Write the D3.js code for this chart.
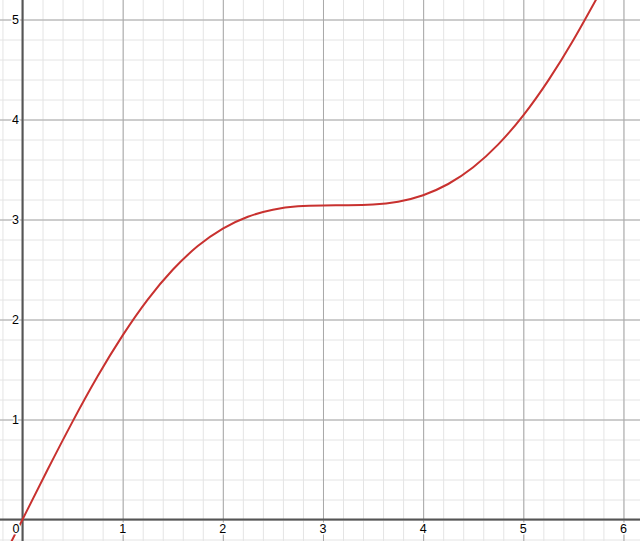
<!DOCTYPE html>
<html><head><meta charset="utf-8">
<script src="https://cdn.jsdelivr.net/npm/d3@7"></script>
<style>
html,body{margin:0;padding:0;background:#fff;}
svg{display:block;}
text{font-family:"Liberation Sans",Arial,sans-serif;}
</style></head>
<body>
<script>
// Data
const xs = [-0.25,0,0.25,0.5,0.75,1,1.25,1.5,1.75,2,2.25,2.5,2.75,3,3.25,3.5,3.75,4,4.25,4.5,4.75,5,5.25,5.5,5.75];
const ys = [-0.497,0,0.497,0.979,1.432,1.841,2.199,2.497,2.734,2.909,3.028,3.098,3.132,3.141,3.142,3.149,3.178,3.243,3.355,3.522,3.751,4.041,4.391,4.795,5.242];
const xTickLabels = [1,2,3,4,5,6];
const yTickLabels = [1,2,3,4,5];

const W = 640, H = 541;
const svg = d3.select("body").append("svg").attr("width", W).attr("height", H);

const x = d3.scaleLinear().domain([0, 5]).range([22.5, 523.3]);
const y = d3.scaleLinear().domain([0, 5]).range([519.5, 19.5]);

const xMin = x.invert(0), xMax = x.invert(W);
const yMin = y.invert(H), yMax = y.invert(0);

const minorX = d3.range(Math.ceil(xMin / 0.2), Math.floor(xMax / 0.2) + 1).map(i => +(i * 0.2).toFixed(2));
const minorY = d3.range(Math.ceil(yMin / 0.2), Math.floor(yMax / 0.2) + 1).map(i => +(i * 0.2).toFixed(2));
const majorX = d3.range(Math.ceil(xMin), Math.floor(xMax) + 1);
const majorY = d3.range(Math.ceil(yMin), Math.floor(yMax) + 1);

// minor grid
svg.append("g").attr("transform", `translate(0,${H})`)
  .call(d3.axisTop(x).tickValues(minorX).tickSize(H).tickFormat(""))
  .call(g => g.select(".domain").remove())
  .call(g => g.selectAll("line").attr("stroke", "#e4e4e4").attr("stroke-width", 1));
svg.append("g")
  .call(d3.axisRight(y).tickValues(minorY).tickSize(W).tickFormat(""))
  .call(g => g.select(".domain").remove())
  .call(g => g.selectAll("line").attr("stroke", "#e4e4e4").attr("stroke-width", 1));

// major grid
svg.append("g").attr("transform", `translate(0,${H})`)
  .call(d3.axisTop(x).tickValues(majorX).tickSize(H).tickFormat(""))
  .call(g => g.select(".domain").remove())
  .call(g => g.selectAll("line").attr("stroke", "#a8a8a8").attr("stroke-width", 1));
svg.append("g")
  .call(d3.axisRight(y).tickValues(majorY).tickSize(W).tickFormat(""))
  .call(g => g.select(".domain").remove())
  .call(g => g.selectAll("line").attr("stroke", "#a8a8a8").attr("stroke-width", 1));

// axes lines
svg.append("line").attr("x1", 0).attr("x2", W).attr("y1", y(0)).attr("y2", y(0))
  .attr("stroke", "#555").attr("stroke-width", 2);
svg.append("line").attr("x1", x(0)).attr("x2", x(0)).attr("y1", 0).attr("y2", H)
  .attr("stroke", "#555").attr("stroke-width", 2);

// curve
svg.append("clipPath").attr("id", "clip").append("rect")
  .attr("x", 0).attr("y", 0).attr("width", W).attr("height", H);
const line = d3.line().x((d, i) => x(xs[i])).y(d => y(d)).curve(d3.curveNatural);
svg.append("path").datum(ys).attr("d", line).attr("clip-path", "url(#clip)")
  .attr("fill", "none").attr("stroke", "#c8312f").attr("stroke-width", 2);

// tick labels
function label(t, px, py, anchor) {
  svg.append("text").text(t).attr("x", px).attr("y", py).attr("text-anchor", anchor)
    .attr("font-size", 12.5).attr("fill", "#fff").attr("stroke", "#fff").attr("stroke-width", 3)
    .attr("stroke-linejoin", "round");
  svg.append("text").text(t).attr("x", px).attr("y", py).attr("text-anchor", anchor)
    .attr("font-size", 12.5).attr("fill", "#000");
}
xTickLabels.forEach(v => label(v, x(v), 533, "middle"));
yTickLabels.forEach(v => label(v, 19, y(v) + 4.5, "end"));
label(0, 19.5, 533, "end");
</script>
</body></html>
